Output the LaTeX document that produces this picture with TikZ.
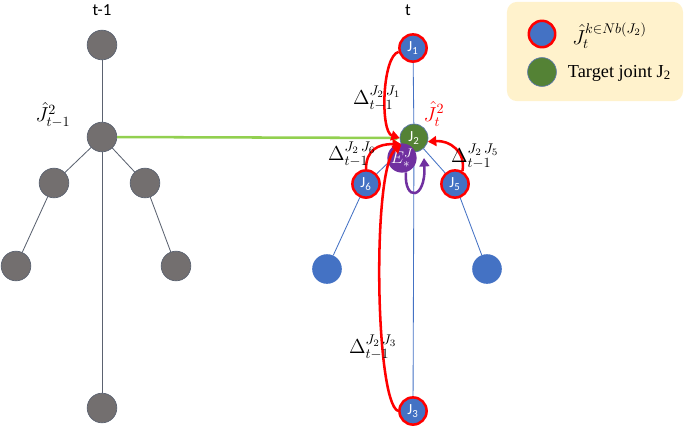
\documentclass[tikz,border=0pt]{standalone}
\usepackage{fontspec}
\usepackage{amsmath}
\usepackage{tikz}
\usetikzlibrary{arrows.meta}
\newfontfamily\carlito{Carlito}
\newfontfamily\legserif{Liberation Serif}

\definecolor{jgray}{HTML}{736F6F}
\definecolor{jgrayline}{HTML}{5B6270}
\definecolor{jblue}{HTML}{4472C4}
\definecolor{jgreen}{HTML}{548235}
\definecolor{jpurple}{HTML}{7030A0}
\definecolor{jlime}{HTML}{92D050}
\definecolor{legbg}{HTML}{FFF2CC}

\tikzset{
    joint/.style={circle, fill=jgray, draw=jgrayline, line width=0.5pt, minimum size=0.74cm, inner sep=0pt},
    nbjoint/.style={circle, fill=jblue, draw=red, line width=1.8pt, minimum size=0.68cm, inner sep=0pt,
        text=white, font=\carlito\fontsize{11}{12}\selectfont},
    hand/.style={circle, fill=jblue, minimum size=0.74cm, inner sep=0pt},
    target/.style={circle, fill=jgreen, draw=jblue!60!gray, line width=0.5pt, minimum size=0.7cm, inner sep=0pt,
        text=white, font=\carlito\fontsize{11}{12}\selectfont},
    errnode/.style={circle, fill=jpurple, minimum size=0.72cm, inner sep=0pt, text=white, font=\fontsize{13}{14}\selectfont},
    bone/.style={jgrayline, line width=0.6pt},
    bluebone/.style={jblue, line width=0.6pt},
    delta/.style={red, line width=1.8pt, -{Triangle[length=6pt,width=7pt]}},
    lbl/.style={inner sep=0pt, font=\fontsize{14}{16}\selectfont},
}

\begin{document}
\begin{tikzpicture}[x=0.025cm, y=-0.025cm]
    \useasboundingbox (0,0) rectangle (685,429);

    % time labels
    \node[font=\carlito\fontsize{12}{14}\selectfont] (tprev) at (102,10) {t-1};
    \node[font=\carlito\fontsize{12}{14}\selectfont] (tnow) at (408,10) {t};

    % skeleton at t-1
    \node[joint] (head) at (102,45) {};
    \node[joint] (neck) at (102,137) {};
    \node[joint] (lsh) at (54,183) {};
    \node[joint] (rsh) at (145,183) {};
    \node[joint] (lhd) at (16,266) {};
    \node[joint] (rhd) at (176,266) {};
    \node[joint] (foot) at (102,408) {};
    \draw[bone] (head) -- (neck) -- (foot);
    \draw[bone] (neck) -- (lsh) -- (lhd);
    \draw[bone] (neck) -- (rsh) -- (rhd);
    \node[lbl] (jprev) at (53,115) {$\hat{J}_{t-1}^{2}$};

    % skeleton at t
    \node[nbjoint] (j1) at (413,48) {J\textsubscript{1}};
    \node[target] (j2) at (414,138) {J\textsubscript{2}};
    \node[nbjoint] (j6) at (366,184) {J\textsubscript{6}};
    \node[nbjoint] (j5) at (455,184) {J\textsubscript{5}};
    \node[hand] (lhand) at (327,269) {};
    \node[hand] (rhand) at (487,269) {};
    \node[nbjoint] (j3) at (413,411) {J\textsubscript{3}};
    \draw[bluebone] (j1) -- (j2) -- (j3);
    \draw[bluebone] (j2) -- (j6) -- (lhand);
    \draw[bluebone] (j2) -- (j5) -- (rhand);
    \node[errnode] (err) at (402,158) {$E^{J}_{*}$};

    % temporal link
    \draw[jlime, line width=1.8pt, -{Triangle[length=5pt,width=6pt]}] (neck) -- (j2);

    % neighbour offsets
    \draw[delta] (j1.195) .. controls (382,56) and (380,132) .. (j2.west);
    \draw[delta] (j6.north) .. controls (366,150) and (378,144) .. (j2.205);
    \draw[delta] (j3.west) .. controls (375,402) and (372,168) .. (j2.208);
    \draw[delta] (j5.60) .. controls (466,152) and (450,140) .. (j2.345);

    % self loop
    \coordinate (loopend) at (424,158);
    \draw[jpurple, line width=1.8pt, -{Triangle[length=6pt,width=7pt]}]
        (err.285) .. controls (404,202) and (426,200) .. (loopend);

    % labels
    \node[lbl] (d1) at (377,98) {$\Delta_{t-1}^{J_2\,J_1}$};
    \node[lbl, text=red] (jnow) at (434,114) {$\hat{J}_{t}^{2}$};
    \node[lbl] (d6) at (352,154) {$\Delta_{t-1}^{J_2\,J_6}$};
    \node[lbl] (d5) at (475,156) {$\Delta_{t-1}^{J_2\,J_5}$};
    \node[lbl] (d3) at (373,347) {$\Delta_{t-1}^{J_2\,J_3}$};

    % legend
    \node[fill=legbg, rounded corners=0.25cm, minimum width=4.4cm, minimum height=2.48cm] (legend) at (595,51.5) {};
    \node[nbjoint, minimum size=0.66cm] (legnb) at (542,34) {};
    \node[target, minimum size=0.72cm] (legtg) at (542,72) {};
    \node[lbl, anchor=west] (legnbtxt) at (572,36) {$\hat{J}_{t}^{k\in Nb(J_2)}$};
    \node[anchor=west, font=\legserif\fontsize{13}{15}\selectfont] (legtgtxt) at (563,73) {Target joint J\textsubscript{2}};
\end{tikzpicture}
\end{document}
